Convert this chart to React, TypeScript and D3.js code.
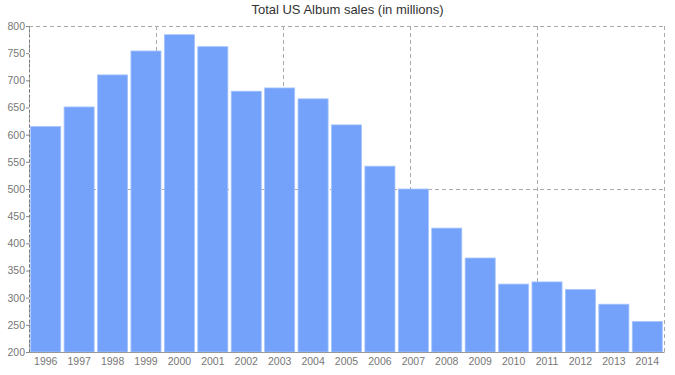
import React, { useEffect, useRef } from 'react';
import * as d3 from 'd3';

const years = ['1996', '1997', '1998', '1999', '2000', '2001', '2002', '2003', '2004', '2005',
  '2006', '2007', '2008', '2009', '2010', '2011', '2012', '2013', '2014'];
const sales = [615, 651, 710, 754, 784, 762, 680, 686, 666, 618, 542, 500, 428, 373, 325, 329, 315, 288, 256];
const yTicks = d3.range(200, 801, 50);
const gridY = [200, 500, 800];
const gridXFractions = [0, 0.2, 0.4, 0.6, 0.8, 1];

const W = 675;
const H = 375;
const margin = { top: 26, right: 11, bottom: 23, left: 29 };

const App = () => {
  const ref = useRef<SVGSVGElement>(null);

  useEffect(() => {
    const svg = d3.select(ref.current);
    svg.selectAll('*').remove();
    const w = W - margin.left - margin.right;
    const h = H - margin.top - margin.bottom;

    const x = d3.scaleBand().domain(years).range([0, w]).paddingInner(0.1).paddingOuter(0.05);
    const y = d3.scaleLinear().domain([200, 800]).range([h, 0]);

    svg.append('text')
      .attr('x', W / 2 + 10)
      .attr('y', 14)
      .attr('text-anchor', 'middle')
      .style('font-family', 'Liberation Sans, Arial, sans-serif')
      .style('font-size', '13px')
      .style('fill', '#333')
      .text('Total US Album sales (in millions)');

    const g = svg.append('g').attr('transform', `translate(${margin.left},${margin.top})`);

    // dashed grid
    const grid = g.append('g')
      .style('stroke', '#aaa')
      .style('stroke-dasharray', '4,3')
      .style('stroke-width', 1);
    gridY.forEach(v => {
      grid.append('line').attr('x1', 0).attr('x2', w)
        .attr('y1', Math.round(y(v)) + 0.5).attr('y2', Math.round(y(v)) + 0.5);
    });
    gridXFractions.forEach(f => {
      const xx = Math.round(f * w) + 0.5;
      grid.append('line').attr('x1', xx).attr('x2', xx).attr('y1', 0).attr('y2', h);
    });

    g.selectAll('.bar')
      .data(sales)
      .enter()
      .append('rect')
      .attr('class', 'bar')
      .attr('x', (d, i) => x(years[i]) as number)
      .attr('width', x.bandwidth())
      .attr('y', d => y(d))
      .attr('height', d => h - y(d))
      .attr('fill', '#74a2fa')
      .attr('stroke', '#a6c4fc')
      .attr('stroke-width', 0.8);

    const yAxis = g.append('g')
      .call(d3.axisLeft(y).tickValues(yTicks).tickSize(3).tickSizeOuter(0));
    yAxis.select('.domain').attr('stroke', '#777').attr('stroke-dasharray', '3,2');
    yAxis.selectAll('.tick line').attr('stroke', '#888');
    yAxis.selectAll('.tick text')
      .attr('x', -4)
      .style('font-family', 'Liberation Sans, Arial, sans-serif')
      .style('font-size', '10.5px')
      .style('fill', '#777');

    const xAxis = g.append('g')
      .attr('transform', `translate(0,${h})`)
      .call(d3.axisBottom(x).tickSize(0).tickSizeOuter(0));
    xAxis.select('.domain').attr('stroke', '#999');
    xAxis.selectAll('.tick text')
      .attr('dy', '0.95em')
      .style('font-family', 'Liberation Sans, Arial, sans-serif')
      .style('font-size', '10.5px')
      .style('fill', '#777');
  }, []);

  return (
    <svg ref={ref} width={W} height={H} style={{ position: 'absolute', left: 0, top: 0, background: '#fff' }} />
  );
};

export default App;
